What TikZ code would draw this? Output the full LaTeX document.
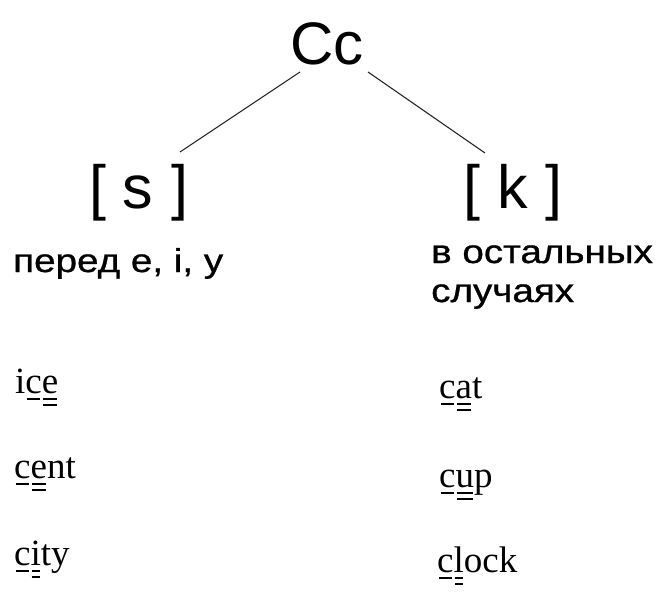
\documentclass[tikz,border=0pt]{standalone}
\usepackage{fontspec}
\setmainfont{Liberation Serif}
\newfontfamily\arialf{Liberation Sans}
\newfontfamily\arialg{Liberation Sans}[FakeBold=0.8]
\newlength\ulw
\newcommand\usg[1]{\setbox0\hbox{#1}\ulw=\dimexpr\wd0-3pt\relax\rlap{\hspace{1.5pt}\raisebox{-7pt}{\rule{\ulw}{1.6pt}}}\box0}
\newcommand\udb[1]{\setbox0\hbox{#1}\ulw=\dimexpr\wd0-2pt\relax\rlap{\hspace{1pt}\raisebox{-7pt}{\rule{\ulw}{1.6pt}}}\rlap{\hspace{1pt}\raisebox{-12.5pt}{\rule{\ulw}{1.6pt}}}\box0}
\tikzset{
  big/.style={inner sep=0pt, anchor=base west, font=\arialf\fontsize{61}{61}\selectfont},
  lbl/.style={inner sep=0pt, anchor=base west, font=\arialg\fontsize{33}{33}\selectfont},
  word/.style={inner sep=0pt, anchor=base west, font=\fontsize{37}{37}\selectfont},
  conn/.style={draw=black!85, line width=1.1pt}
}
\begin{document}
\begin{tikzpicture}[x=1pt,y=-1pt]
\useasboundingbox[fill=white] (0,0) rectangle (670,594);
\node[big, font=\arialf\fontsize{60}{60}\selectfont] (cc) at (290,65) {Cc};
\node[big] (s) at (89,208) {[\hspace{16pt}s\hspace{19pt}]};
\node[big] (k) at (463,208) {[\hspace{17pt}k\hspace{18pt}]};
\coordinate (ccl) at (300,72);
\coordinate (ccr) at (368,72);
\coordinate (st) at (180,152);
\coordinate (kt) at (485,153);
\draw[conn] (ccl) -- (st);
\draw[conn] (ccr) -- (kt);
\node[lbl] (ls) at (13,272) {\scalebox{1.17}[1]{перед e, i, y}};
\node[lbl] (lk1) at (431,263) {\scalebox{1.17}[1]{в остальных}};
\node[lbl] (lk2) at (431,302) {\scalebox{1.17}[1]{случаях}};
\node[word] (w1) at (15,393) {i\usg{c}\udb{e}};
\node[word] (w2) at (14,478) {\usg{c}\udb{e}nt};
\node[word] (w3) at (14,565) {\usg{c}\udb{i}ty};
\node[word] (w4) at (439,398) {\usg{c}\udb{a}t};
\node[word] (w5) at (439,487) {\usg{c}\udb{u}p};
\node[word] (w6) at (437,572) {\usg{c}\udb{l}ock};
\end{tikzpicture}
\end{document}
